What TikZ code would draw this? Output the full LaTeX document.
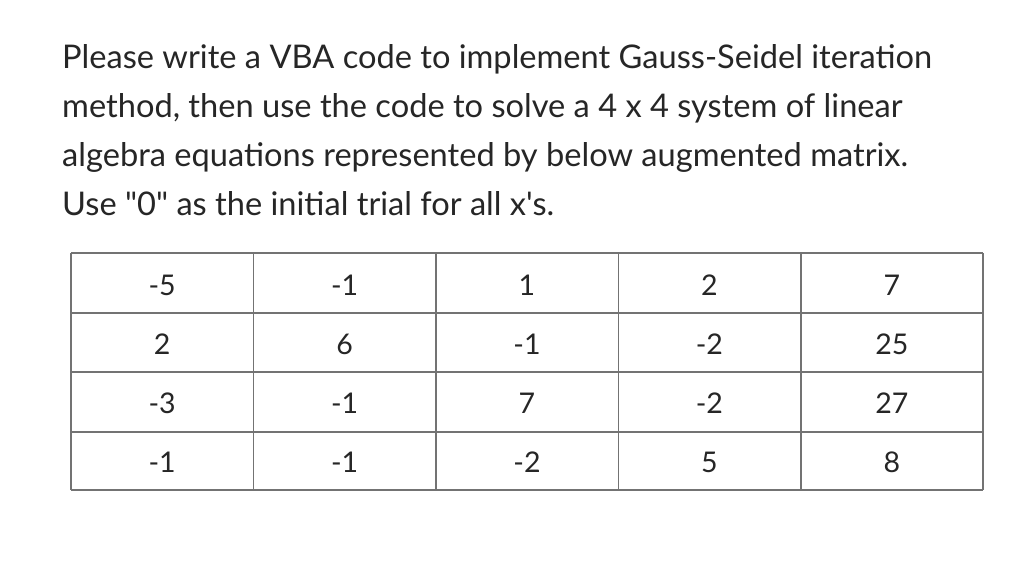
\documentclass[tikz,border=0pt]{standalone}
\usepackage{fontspec}
\setmainfont{Lato}
\newfontfamily\latoplain{Lato}
\usetikzlibrary{positioning}
\tikzset{
  para/.style={anchor=base west, font=\latoplain\fontsize{32.6}{36}\selectfont, text=black!85, inner sep=0pt},
  cell/.style={font=\fontsize{28.5}{32}\selectfont, text=black!85},
  grid line/.style={draw=black!55, line width=1.4pt}
}
\begin{document}
\begin{tikzpicture}[x=1pt,y=-1pt]
  \useasboundingbox[fill=white] (0,0) rectangle (1018,568);
  % question text
  \node (l1) [para] at (62,68) {Please write a VBA code to implement Gauss-Seidel iteration};
  \node (l2) [para] at (62,117) {method, then use the code to solve a 4 x 4 system of linear};
  \node (l3) [para] at (62,166) {algebra equations represented by below augmented matrix.};
  \node (l4) [para] at (62,215) {Use \char34{}0\char34{} as the initial trial for all x\char39{}s.};
  % table grid
  \foreach \x in {71,253.5,436,618.5,801,983}
    \draw [grid line] (\x,253) -- (\x,490);
  \foreach \y in {253,313,372,432,490}
    \draw [grid line] (71,\y) -- (983,\y);
  % entries
  \foreach \r/\y/\vals in {1/285/{-5,-1,1,2,7}, 2/344/{2,6,-1,-2,25},
      3/403/{-3,-1,7,-2,27}, 4/462/{-1,-1,-2,5,8}} {
    \foreach \v [count=\c] in \vals
      \node (c-\r-\c) [cell] at ({71+(\c-0.5)*182.4},\y) {\v};
  }
\end{tikzpicture}
\end{document}
